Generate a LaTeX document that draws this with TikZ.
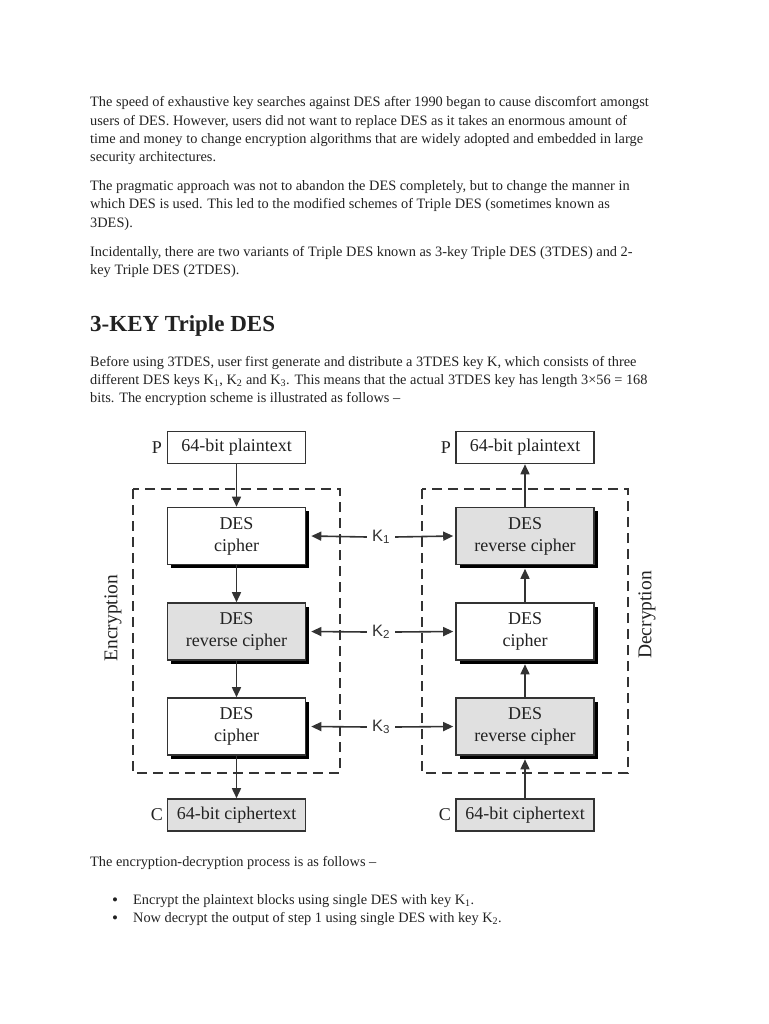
\documentclass[tikz,border=0pt]{standalone}
\usepackage{fontspec}
\setmainfont{Liberation Serif}
\newfontfamily\keyfont{Liberation Sans}
\usetikzlibrary{arrows.meta,shadows}
\definecolor{ink}{HTML}{222222}
\definecolor{lin}{HTML}{333333}
\definecolor{shade}{HTML}{E0E0E0}
\begin{document}
\begin{tikzpicture}[x=1pt,y=-1pt,
  txt/.style={anchor=base west,inner sep=0pt,font=\fontsize{14.35}{17}\selectfont,text=ink},
  head/.style={anchor=base west,inner sep=0pt,font=\fontsize{23}{27}\bfseries\selectfont,text=ink},
  blk/.style={draw=lin,line width=1.6pt,minimum width=138pt,minimum height=57pt,align=center,
    font=\fontsize{18}{22}\selectfont,inner sep=0pt,text=ink,
    drop shadow={shadow xshift=3.5pt,shadow yshift=-3.5pt,fill=black,opacity=1}},
  wblk/.style={blk,fill=white},
  gblk/.style={blk,fill=shade},
  io/.style={draw=lin,line width=1.6pt,minimum width=138pt,minimum height=32pt,inner sep=0pt,
    font=\fontsize{18}{22}\selectfont,text=ink},
  lab/.style={font=\fontsize{18}{22}\selectfont,text=ink,inner sep=0pt},
  side/.style={font=\fontsize{19.5}{22}\selectfont,text=ink,inner sep=0pt,rotate=90},
  keylbl/.style={font=\keyfont\fontsize{16.5}{18}\selectfont,text=lin,inner sep=0pt,minimum width=28pt,minimum height=14pt},
  arr/.style={draw=lin,line width=1.6pt,-{Triangle[length=10pt,width=9pt]}},
  dashbox/.style={draw=lin,line width=1.8pt,dash pattern=on 10pt off 6pt},
  bul/.style={anchor=base,inner sep=0pt,font=\fontsize{17}{17}\selectfont,text=ink}
]
\useasboundingbox[fill=white] (0,0) rectangle (768,1024);

% body text
\node[txt] (t1) at (90,107) {The speed of exhaustive key searches against DES after 1990 began to cause discomfort amongst};
\node[txt] (t2) at (90,125.3) {users of DES. However, users did not want to replace DES as it takes an enormous amount of};
\node[txt] (t3) at (90,143.6) {time and money to change encryption algorithms that are widely adopted and embedded in large};
\node[txt] (t4) at (90,162) {security architectures.};
\node[txt] (t5) at (90,190.7) {The pragmatic approach was not to abandon the DES completely, but to change the manner in};
\node[txt] (t6) at (90,209) {which DES is used. This led to the modified schemes of Triple DES (sometimes known as};
\node[txt] (t7) at (90,227.3) {3DES).};
\node[txt] (t8) at (90,256) {Incidentally, there are two variants of Triple DES known as 3-key Triple DES (3TDES) and 2-};
\node[txt] (t9) at (90,274.3) {key Triple DES (2TDES).};
\node[head] (h1) at (90,331) {3-KEY Triple DES};
\node[txt] (t10) at (90,366) {Before using 3TDES, user first generate and distribute a 3TDES key K, which consists of three};
\node[txt] (t11) at (90,384.3) {different DES keys K\textsubscript{1}, K\textsubscript{2} and K\textsubscript{3}. This means that the actual 3TDES key has length 3×56 = 168};
\node[txt] (t12) at (90,402.6) {bits. The encryption scheme is illustrated as follows –};

% diagram: dashed frames
\draw[dashbox] (133,489) rectangle (340,773);
\draw[dashbox] (422,489) rectangle (628,773);

% left column
\node[io] (lp) at (236.5,447.5) {64-bit plaintext};
\node[lab,anchor=east] (lpl) at (162,447.5) {P};
\node[wblk] (lb1) at (236.5,536) {DES\\cipher};
\node[gblk] (lb2) at (236.5,631.5) {DES\\reverse cipher};
\node[wblk] (lb3) at (236.5,726.5) {DES\\cipher};
\node[io,fill=shade] (lc) at (236.5,815) {64-bit ciphertext};
\node[lab,anchor=east] (lcl) at (163,815) {C};

% right column
\node[io] (rp) at (525,447.5) {64-bit plaintext};
\node[lab,anchor=east] (rpl) at (451,447.5) {P};
\node[gblk] (rb1) at (525,536) {DES\\reverse cipher};
\node[wblk] (rb2) at (525,631.5) {DES\\cipher};
\node[gblk] (rb3) at (525,726.5) {DES\\reverse cipher};
\node[io,fill=shade] (rc) at (525,815) {64-bit ciphertext};
\node[lab,anchor=east] (rcl) at (451,815) {C};

% side labels
\node[side] (enc) at (113,618) {Encryption};
\node[side] (dec) at (647,615) {Decryption};

% keys
\node[keylbl] (k1) at (381,537) {K\textsubscript{1}};
\node[keylbl] (k2) at (381,632) {K\textsubscript{2}};
\node[keylbl] (k3) at (381,727) {K\textsubscript{3}};

% vertical flow
\draw[arr] (lp.south) -- (lb1.north);
\draw[arr] (lb1.south) -- (lb2.north);
\draw[arr] (lb2.south) -- (lb3.north);
\draw[arr] (lb3.south) -- (lc.north);
\draw[arr] (rc.north) -- ([yshift=-3.5pt]rb3.south);
\draw[arr] (rb3.north) -- ([yshift=-3.5pt]rb2.south);
\draw[arr] (rb2.north) -- ([yshift=-3.5pt]rb1.south);
\draw[arr] (rb1.north) -- (rp.south);

% key arrows
\foreach \k/\l/\r in {k1/lb1/rb1,k2/lb2/rb2,k3/lb3/rb3}{
  \draw[arr] (\k.west) -- ([xshift=5pt]\l.east);
  \draw[arr] (\k.east) -- ([xshift=-2pt]\r.west);
}

% bottom text
\node[txt] (t13) at (90,866) {The encryption-decryption process is as follows –};
\node[bul] (b1) at (115,905) {•};
\node[txt] (t14) at (133,904) {Encrypt the plaintext blocks using single DES with key K\textsubscript{1}.};
\node[bul] (b2) at (115,923.3) {•};
\node[txt] (t15) at (133,922.3) {Now decrypt the output of step 1 using single DES with key K\textsubscript{2}.};
\end{tikzpicture}
\end{document}
